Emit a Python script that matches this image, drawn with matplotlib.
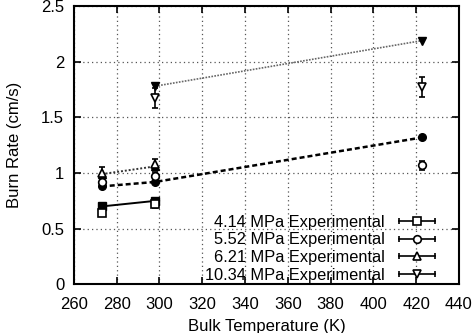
import matplotlib
matplotlib.use("Agg")
import matplotlib.pyplot as plt
from matplotlib.lines import Line2D
from matplotlib.legend_handler import HandlerLine2D, HandlerTuple

plt.rcParams['font.family'] = ['Liberation Sans', 'DejaVu Sans']

# Bulk temperatures (K)
temps_a = [273, 298]
temps_b = [273, 298, 423]
temps_c = [298, 423]

# Model predictions (cm/s)
model_414 = [0.70, 0.75]
model_552 = [0.88, 0.92, 1.32]
model_621 = [0.99, 1.06]
model_1034 = [1.78, 2.19]

# Experimental burn rates (cm/s) and uncertainties
exp_414 = [0.64, 0.72]
err_414 = [0.03, 0.03]
exp_552 = [0.92, 0.97, 1.07]
err_552 = [0.04, 0.04, 0.04]
exp_621 = [1.00, 1.08]
err_621 = [0.05, 0.05]
exp_1034 = [1.67, 1.77]
err_1034 = [0.09, 0.09]

labels = ["4.14 MPa Experimental", "5.52 MPa Experimental",
          "6.21 MPa Experimental", "10.34 MPa Experimental"]

x_ticks = list(range(260, 441, 20))
y_ticks = [0, 0.5, 1, 1.5, 2, 2.5]
y_tick_labels = ["0", "0.5", "1", "1.5", "2", "2.5"]

fig = plt.figure(figsize=(4.74, 3.33), dpi=100)
ax = fig.add_axes([0.156, 0.146, 0.812, 0.836])

# model curves with filled markers
ax.plot(temps_a, model_414, '-', color='black', lw=1.4, marker='s', ms=5.5, zorder=3)
ax.plot(temps_b, model_552, color='black', lw=1.8, ls=(0, (2.0, 1.2)), marker='o', ms=5.5, zorder=3)
ax.plot(temps_a, model_621, color='#333333', lw=1.4, ls=(0, (1.0, 1.0)), marker='^', ms=5.5,
        mfc='black', mec='black', zorder=3)
ax.plot(temps_c, model_1034, color='#666666', lw=1.2, ls=(0, (1.0, 0.8)), marker='v', ms=5.5,
        mfc='black', mec='black', zorder=3)

# experimental points with error bars
exp_sets = [(temps_a, exp_414, err_414, 's'),
            (temps_b, exp_552, err_552, 'o'),
            (temps_a, exp_621, err_621, '^'),
            (temps_c, exp_1034, err_1034, 'v')]
for t, y, e, m in exp_sets:
    ax.errorbar(t, y, yerr=e, fmt=m, ms=5.5, mfc='white', mec='black', mew=1.2,
                ecolor='black', elinewidth=1.2, capsize=2.5, capthick=1.2, zorder=4)

ax.set_xlim(260, 440)
ax.set_ylim(0, 2.5)
ax.set_xticks(x_ticks)
ax.set_yticks(y_ticks)
ax.set_yticklabels(y_tick_labels)
ax.grid(True, color='#555555', ls=(0, (1, 2.5)), lw=0.9)
ax.tick_params(direction='in', length=5, width=1.2, top=True, right=True,
               labelsize=12, pad=7)
ax.tick_params(axis='x', pad=9)
for s in ax.spines.values():
    s.set_linewidth(1.5)

ax.set_xlabel("Bulk Temperature (K)", fontsize=12, labelpad=5)
ax.set_ylabel("Burn Rate (cm/s)", fontsize=12, labelpad=14)

# legend entries: horizontal bar with end caps and an open marker
handles = []
hmap = {}
for m in ['s', 'o', '^', 'v']:
    bar = Line2D([], [], color='black', lw=1.2, marker='|', ms=5, mew=1.2)
    mk = Line2D([], [], ls='none', marker=m, ms=5.5, mfc='white', mec='black', mew=1.2)
    hmap[bar] = HandlerLine2D(numpoints=2)
    hmap[mk] = HandlerLine2D(numpoints=1)
    handles.append((bar, mk))
hmap[tuple] = HandlerTuple(ndivide=1, pad=0)

ax.legend(handles, labels, handler_map=hmap, loc='lower right',
          bbox_to_anchor=(0.952, 0.005), frameon=False, markerfirst=False,
          fontsize=11.8, handlelength=2.8, handletextpad=0.6,
          labelspacing=0.17, borderpad=0, borderaxespad=0)

fig.savefig("out.png", dpi=100)
